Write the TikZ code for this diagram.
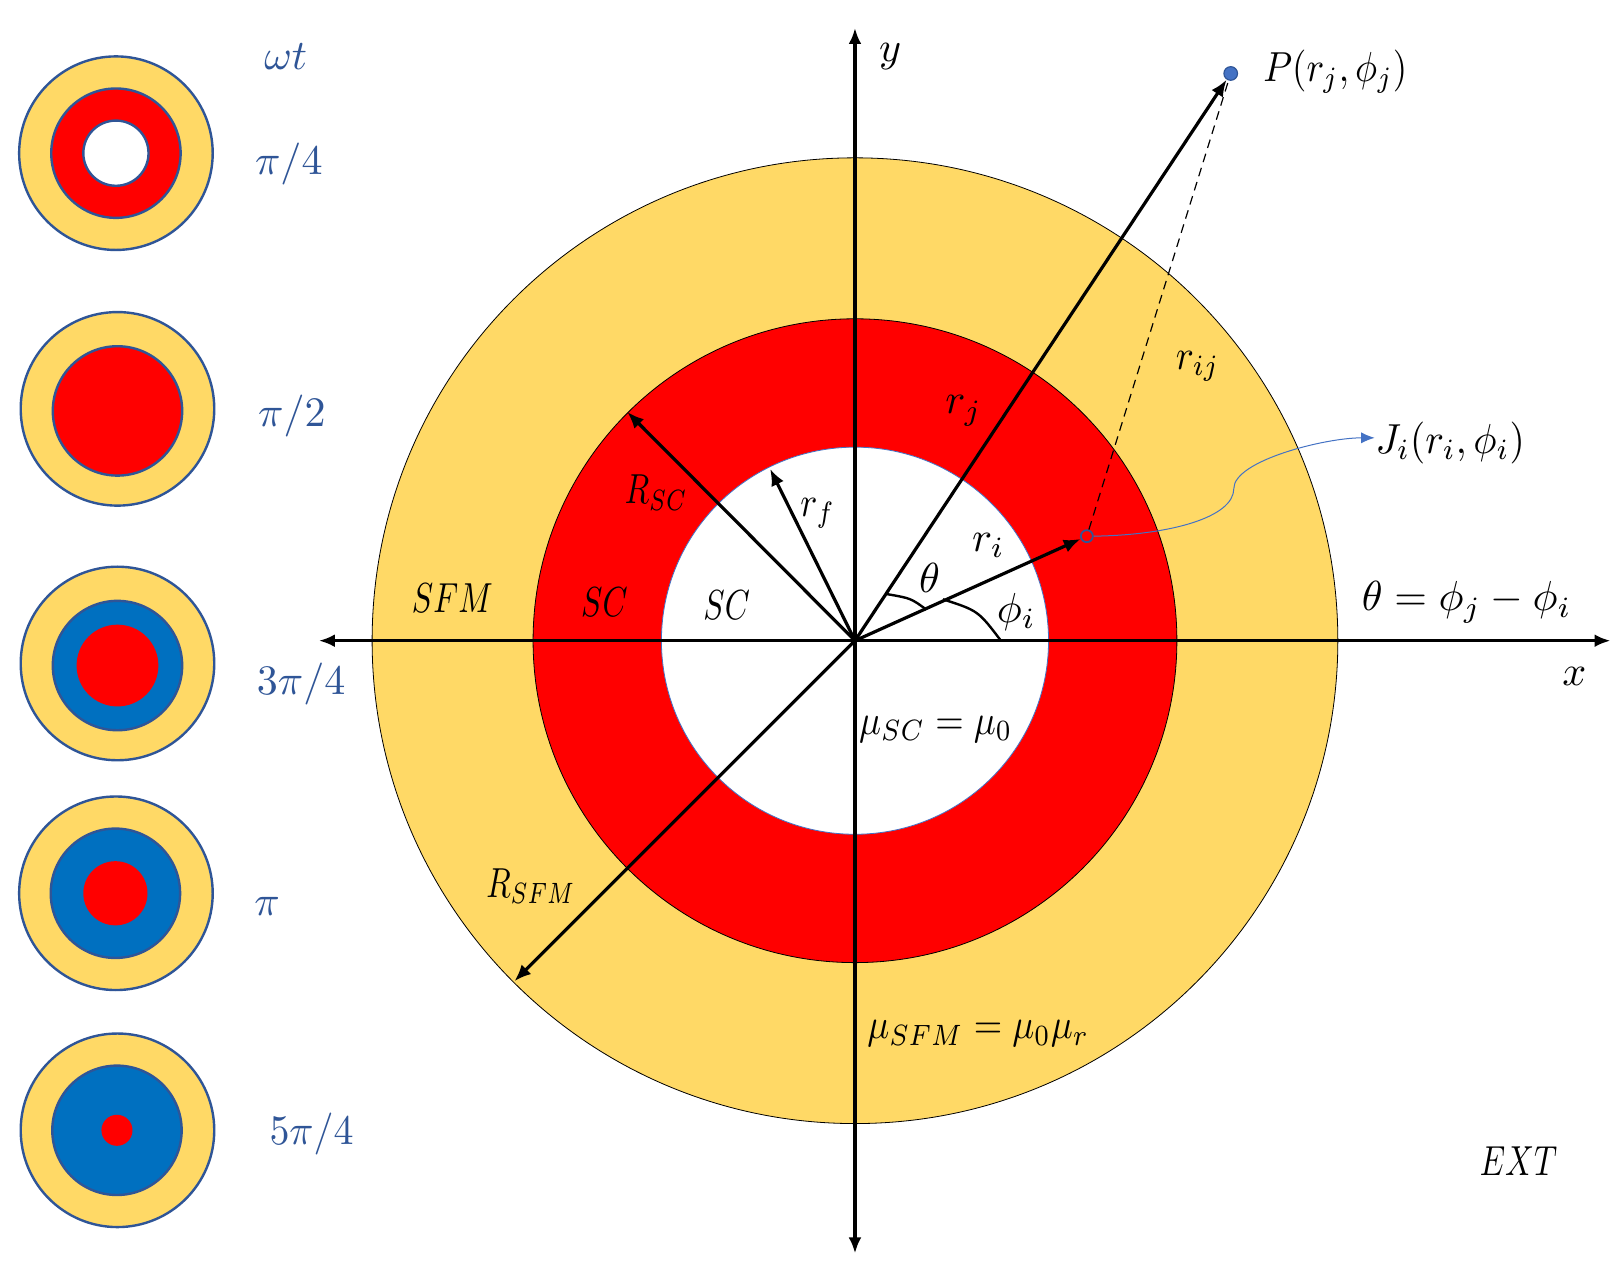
\documentclass[tikz,border=0pt]{standalone}
\usetikzlibrary{arrows.meta}
\definecolor{ygold}{HTML}{FFD966}
\definecolor{sblue}{HTML}{0070C0}
\definecolor{oblue}{HTML}{2F5597}
\definecolor{lblue}{HTML}{4472C4}
\begin{document}
\begin{tikzpicture}[x=0.25877pt,y=-0.25877pt,
  mainring/.style={draw=black,line width=0.2pt},
  thumb/.style={draw=oblue,line width=0.6pt},
  axisline/.style={line width=0.8pt,{Latex[length=4pt,width=3.2pt]}-{Latex[length=4pt,width=3.2pt]}},
  vec/.style={line width=0.8pt,-{Latex[length=4.2pt,width=3.4pt]}},
  arcmark/.style={line width=0.6pt},
  lab/.style={black,inner sep=0pt,scale=1.05},
  blab/.style={oblue,inner sep=0pt,scale=1.05},
  capsq/.style={xscale=0.76}]
\useasboundingbox (0,0) rectangle (1568,1225);
% main rings
\coordinate (O) at (826,619);
\fill[white] (0,0) rectangle (1568,1225);
\draw[mainring,fill=ygold] (O) circle (466.5);
\draw[mainring,fill=red] (O) circle (311);
\draw[draw=lblue,line width=0.2pt,fill=white] (O) circle (187);
% thumbnails
\draw[thumb,fill=ygold] (112,148) circle (93.5);
\draw[thumb,fill=red] (112,148) circle (62.5);
\draw[thumb,fill=white] (112,148) circle (31.5);
\draw[thumb,fill=ygold] (113.5,395) circle (93.5);
\draw[thumb,fill=red] (113.5,397) circle (62.5);
\draw[thumb,fill=ygold] (113.5,641) circle (93.5);
\draw[thumb,fill=sblue] (113.5,643) circle (62.5);
\fill[red] (113.5,643) circle (39.5);
\draw[thumb,fill=ygold] (112,863) circle (93.5);
\draw[thumb,fill=sblue] (111.5,863) circle (62.5);
\fill[red] (111.5,863) circle (31);
\draw[thumb,fill=ygold] (113.5,1092) circle (93.5);
\draw[thumb,fill=sblue] (113,1092) circle (62.5);
\fill[red] (113,1092) circle (15);
% axes
\coordinate (xl) at (308,619);
\coordinate (xr) at (1556,619);
\coordinate (yt) at (826,27);
\coordinate (yb) at (826,1211);
\draw[axisline] (xl) -- (xr);
\draw[axisline] (yt) -- (yb);
% points
\node[circle,draw=oblue,fill=lblue,line width=0.3pt,inner sep=0pt,minimum size=3.4pt] (P) at (1189,71) {};
\node[circle,draw=oblue,fill=red,line width=0.45pt,inner sep=0pt,minimum size=3pt] (J) at (1050,518) {};
% vectors
\coordinate (Rsc) at (606,398);
\coordinate (Rf) at (744,453);
\coordinate (Rsfm) at (497,948);
\draw[vec] (O) -- (Rsc);
\draw[vec] (O) -- (Rf);
\draw[vec] (O) -- (Rsfm);
\draw[vec] (O) -- (P);
\draw[vec] (O) -- (J);
\draw[line width=0.3pt,dash pattern=on 2.2pt off 1.5pt] (J) -- (P);
% angle marks
\draw[arcmark] (911,579) .. controls (945,590) .. (967,619);
\draw[arcmark] (857,574) .. controls (880,578) .. (895,589);
% J label and connector
\node[lab,xscale=0.93] (Jt) at (1401,428) {$J_i(r_i,\phi_i)$};
\coordinate (Jend) at (1328,423);
\draw[lblue,line width=0.25pt,-{Latex[length=3.4pt,width=2.8pt]}] (J.east) .. controls (1130,517) and (1192,500) .. (1192,472) .. controls (1192,445) and (1280,423) .. (Jend);
% labels
\node[blab] (wt) at (276,55) {$\omega t$};
\node[blab] (t1) at (279,158) {$\pi/4$};
\node[blab] (t2) at (282,402) {$\pi/2$};
\node[blab] (t3) at (291,661) {$3\pi/4$};
\node[blab] (t4) at (258,876) {$\pi$};
\node[blab,xscale=0.95] (t5) at (301,1096) {$5\pi/4$};
\node[lab] (ylab) at (860,55) {$y$};
\node[lab] (xlab) at (1521,654) {$x$};
\node[lab,xscale=0.88] (Pt) at (1290,69) {$P(r_j,\phi_j)$};
\node[lab,xscale=0.9] (rij) at (1157,354) {$r_{ij}$};
\node[lab] (thd) at (1417,582) {$\theta=\phi_j-\phi_i$};
\node[lab] (rj) at (931,397) {$r_j$};
\node[lab,capsq] (RSC) at (634,476) {$R_{SC}$};
\node[lab,xscale=0.85] (rf) at (790,496) {$r_f$};
\node[lab] (ri) at (955,527) {$r_i$};
\node[lab] (th) at (898,558) {$\theta$};
\node[lab] (ph) at (982,591) {$\phi_i$};
\node[lab,capsq] (SFM) at (437,578) {$SFM$};
\node[lab,capsq] (SC1) at (584,582) {$SC$};
\node[lab,capsq] (SC2) at (702,585) {$SC$};
\node[lab,xscale=0.87] (muSC) at (904,705) {$\mu_{SC}=\mu_0$};
\node[lab,capsq] (RSFM) at (513,856) {$R_{SFM}$};
\node[lab,xscale=0.87] (muSFM) at (945,999) {$\mu_{SFM}=\mu_0\mu_r$};
\node[lab,capsq] (EXT) at (1467,1122) {$EXT$};
\end{tikzpicture}
\end{document}
